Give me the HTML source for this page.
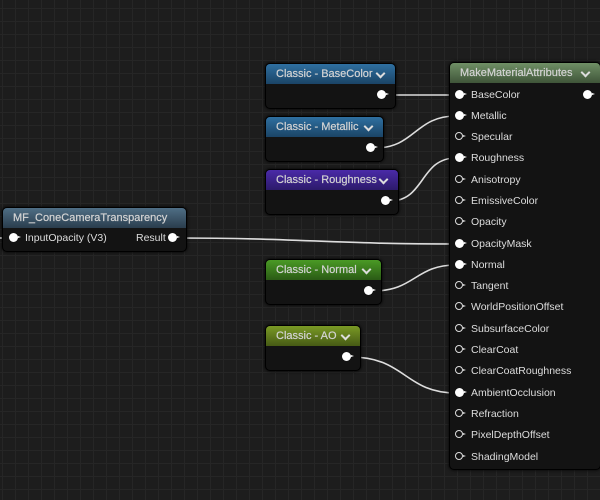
<!DOCTYPE html>
<html><head><style>
body{margin:0;width:600px;height:500px;overflow:hidden;background:#1d1d1d;font-family:"Liberation Sans",sans-serif;position:relative}
.grid{position:absolute;inset:0;background-image:linear-gradient(#262626 1px,transparent 1px),linear-gradient(90deg,#262626 1px,transparent 1px);background-size:13px 13px;background-position:2px 8px}
.n{position:absolute;background:#131313;border-radius:5px;box-shadow:0 0 3px #000;border:1px solid #000}
.h{height:20px;border-radius:4px 4px 0 0;color:#d4d4d4;font-size:11px;line-height:20px;padding-left:10px;position:relative;-webkit-text-stroke:0.2px #d4d4d4}
.h .c{position:absolute;right:11px;top:6px;width:5px;height:5px;border-right:2px solid #ddd;border-bottom:2px solid #ddd;transform:rotate(45deg)}
.p{position:absolute;width:9px;height:9px;border-radius:50%;background:#fff}
.p:after{content:"";position:absolute;right:-3px;top:3px;border-left:3px solid #fff;border-top:1.5px solid transparent;border-bottom:1.5px solid transparent}
.o{position:absolute;width:6px;height:6px;border-radius:50%;border:1.5px solid #ddd}
.o:after{content:"";position:absolute;right:-4px;top:1.5px;border-left:3px solid #ddd;border-top:1.5px solid transparent;border-bottom:1.5px solid transparent}
.t{position:absolute;color:#ddd;font-size:10.5px;line-height:12px}
svg{position:absolute;left:0;top:0}
</style></head><body>
<div class="grid"></div>
<svg width="600" height="500"><g stroke="#ddd" stroke-width="1.6" fill="none">
<path d="M386 95 L456 95"/>
<path d="M375 148 C415 148,415 116,456 116"/>
<path d="M390 201 C425 201,420 158,456 158"/>
<path d="M176 238 C300 238,330 244,456 244"/>
<path d="M373 291 C415 291,415 265,456 265"/>
<path d="M351 357 C405 357,405 393,456 393"/>
<path d="M0 238 L10 238"/>
</g></svg>

<div class="n" style="left:265px;top:63px;width:129px;height:44px"><div class="h" style="background:linear-gradient(#2f6fa0,#1b4466)">Classic - BaseColor<span class="c"></span></div></div>
<div class="n" style="left:265px;top:116px;width:117px;height:44px"><div class="h" style="background:linear-gradient(#2f6fa0,#1b4466)">Classic - Metallic<span class="c"></span></div></div>
<div class="n" style="left:265px;top:169px;width:132px;height:44px"><div class="h" style="background:linear-gradient(#4a2aa8,#2c1a6a)">Classic - Roughness<span class="c"></span></div></div>
<div class="n" style="left:2px;top:207px;width:183px;height:43px"><div class="h" style="background:linear-gradient(#4f6e85,#2a3d4d)">MF_ConeCameraTransparency</div></div>
<div class="n" style="left:265px;top:259px;width:115px;height:44px"><div class="h" style="background:linear-gradient(#4a9a25,#2a5a15)">Classic - Normal<span class="c"></span></div></div>
<div class="n" style="left:265px;top:325px;width:94px;height:44px"><div class="h" style="background:linear-gradient(#7a9a25,#465a15)">Classic - AO<span class="c"></span></div></div>
<div class="n" style="left:449px;top:62px;width:150px;height:406px"><div class="h" style="background:linear-gradient(#6f8f65,#3f5539)">MakeMaterialAttributes<span class="c"></span></div></div>

<div class="p" style="left:377px;top:90px"></div>
<div class="p" style="left:366px;top:143px"></div>
<div class="p" style="left:381px;top:196px"></div>
<div class="p" style="left:364px;top:286px"></div>
<div class="p" style="left:342px;top:352px"></div>
<div class="p" style="left:9px;top:233px"></div>
<div class="t" style="left:25px;top:232px">InputOpacity (V3)</div>
<div class="t" style="left:136px;top:232px">Result</div>
<div class="p" style="left:168px;top:233px"></div>
<div class="p" style="left:583px;top:90px"></div>

<div class="p" style="left:455px;top:90px"></div><div class="t" style="left:471px;top:89px">BaseColor</div>
<div class="p" style="left:455px;top:111px"></div><div class="t" style="left:471px;top:110px">Metallic</div>
<div class="o" style="left:455px;top:132px"></div><div class="t" style="left:471px;top:131px">Specular</div>
<div class="p" style="left:455px;top:153px"></div><div class="t" style="left:471px;top:152px">Roughness</div>
<div class="o" style="left:455px;top:175px"></div><div class="t" style="left:471px;top:174px">Anisotropy</div>
<div class="o" style="left:455px;top:196px"></div><div class="t" style="left:471px;top:195px">EmissiveColor</div>
<div class="o" style="left:455px;top:217px"></div><div class="t" style="left:471px;top:216px">Opacity</div>
<div class="p" style="left:455px;top:239px"></div><div class="t" style="left:471px;top:238px">OpacityMask</div>
<div class="p" style="left:455px;top:260px"></div><div class="t" style="left:471px;top:259px">Normal</div>
<div class="o" style="left:455px;top:281px"></div><div class="t" style="left:471px;top:280px">Tangent</div>
<div class="o" style="left:455px;top:302px"></div><div class="t" style="left:471px;top:301px">WorldPositionOffset</div>
<div class="o" style="left:455px;top:324px"></div><div class="t" style="left:471px;top:323px">SubsurfaceColor</div>
<div class="o" style="left:455px;top:345px"></div><div class="t" style="left:471px;top:344px">ClearCoat</div>
<div class="o" style="left:455px;top:366px"></div><div class="t" style="left:471px;top:365px">ClearCoatRoughness</div>
<div class="p" style="left:455px;top:388px"></div><div class="t" style="left:471px;top:387px">AmbientOcclusion</div>
<div class="o" style="left:455px;top:409px"></div><div class="t" style="left:471px;top:408px">Refraction</div>
<div class="o" style="left:455px;top:430px"></div><div class="t" style="left:471px;top:429px">PixelDepthOffset</div>
<div class="o" style="left:455px;top:452px"></div><div class="t" style="left:471px;top:451px">ShadingModel</div>
</body></html>
